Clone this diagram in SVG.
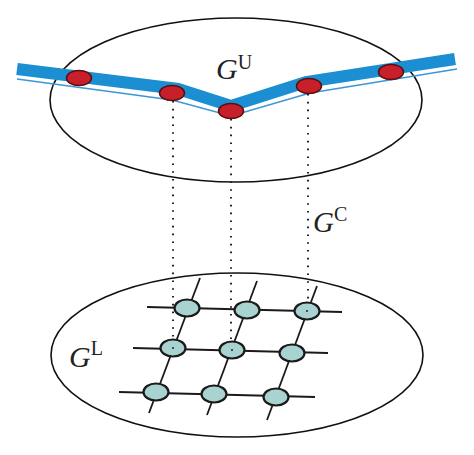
<svg xmlns="http://www.w3.org/2000/svg" width="474" height="455" viewBox="0 0 474 455">
<style>
.ell{fill:none;stroke:#111;stroke-width:1.6}
.band{fill:none;stroke:#1b8fd2;stroke-width:12;stroke-linejoin:miter}
.thin{fill:none;stroke:#3c96d8;stroke-width:1.5}
.red{fill:#c8202a;stroke:#5a1010;stroke-width:1.5}
.lnode{fill:#a9d3d1;stroke:#1a1a1a;stroke-width:2.2}
.edge{stroke:#1a1a1a;stroke-width:1.8;fill:none}
.dot{stroke:#222;stroke-width:2;stroke-dasharray:1.6 6.2;fill:none}
.lbl{font-family:"Liberation Serif",serif;fill:#222}
.g{font-style:italic}
</style>
<g id="upper-plane">
<ellipse class="ell" cx="236" cy="100" rx="186" ry="82"/>
</g>
<g id="lower-plane">
<ellipse class="ell" cx="237" cy="355" rx="186" ry="82"/>
</g>
<g id="connectors">
<polyline class="thin" points="17,79 172,100 231,116 310,93 457,69"/>
<polyline class="band" points="17,69 178,89 231,106 306,82 455,59"/>
<line class="dot" x1="173" y1="101" x2="173" y2="349"/>
<line class="dot" x1="231" y1="119" x2="231" y2="351"/>
<line class="dot" x1="308" y1="94" x2="308" y2="312"/>
<line class="edge" x1="147" y1="307" x2="342" y2="312"/>
<line class="edge" x1="133" y1="348" x2="328" y2="353"/>
<line class="edge" x1="119" y1="392" x2="315" y2="397"/>
<line class="edge" x1="200" y1="278" x2="149" y2="413"/>
<line class="edge" x1="257" y1="281" x2="207" y2="415"/>
<line class="edge" x1="317" y1="286" x2="267" y2="420"/>
</g>
<g id="upper-nodes">
<ellipse class="red" cx="79" cy="78" rx="12.5" ry="7.5"/>
<ellipse class="red" cx="172" cy="93" rx="12.5" ry="7.5"/>
<ellipse class="red" cx="231" cy="111" rx="12.5" ry="7.5"/>
<ellipse class="red" cx="309" cy="86" rx="12.5" ry="7.5"/>
<ellipse class="red" cx="391" cy="72" rx="12.5" ry="7.5"/>
</g>
<g id="lower-nodes">
<ellipse class="lnode" cx="187" cy="308" rx="12.5" ry="8.5"/>
<ellipse class="lnode" cx="247" cy="310" rx="12.5" ry="8.5"/>
<ellipse class="lnode" cx="307" cy="311" rx="12.5" ry="8.5"/>
<ellipse class="lnode" cx="173" cy="348" rx="12.5" ry="8.5"/>
<ellipse class="lnode" cx="232" cy="350" rx="12.5" ry="8.5"/>
<ellipse class="lnode" cx="292" cy="353" rx="12.5" ry="8.5"/>
<ellipse class="lnode" cx="156" cy="392" rx="12.5" ry="8.5"/>
<ellipse class="lnode" cx="214" cy="394" rx="12.5" ry="8.5"/>
<ellipse class="lnode" cx="276" cy="397" rx="12.5" ry="8.5"/>
<circle cx="173" cy="348" r="1" fill="#222"/>
<circle cx="232" cy="350" r="1" fill="#222"/>
<circle cx="307" cy="311" r="1" fill="#222"/>
</g>
<g id="label-GU">
<text class="lbl" x="216" y="79" font-size="30"><tspan class="g">G</tspan><tspan font-size="20" dy="-10">U</tspan></text>
</g>
<g id="label-GC">
<text class="lbl" x="313" y="232" font-size="29"><tspan class="g">G</tspan><tspan font-size="20" dy="-11">C</tspan></text>
</g>
<g id="label-GL">
<text class="lbl" x="69" y="367" font-size="30"><tspan class="g">G</tspan><tspan font-size="20" dy="-12">L</tspan></text>
</g>
</svg>
